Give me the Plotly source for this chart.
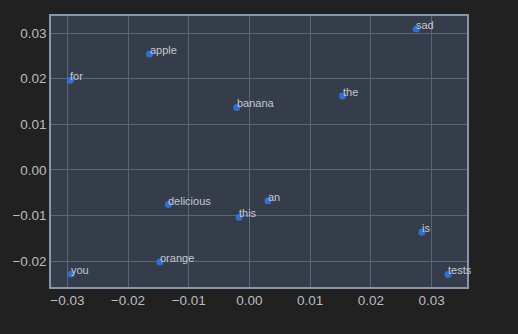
import plotly.graph_objects as go

words = ["for", "apple", "banana", "sad", "the", "delicious", "this", "orange", "you", "an", "is", "tests"]
xs = [-0.0295, -0.01646, -0.00208, 0.02748, 0.01534, -0.01334, -0.0017, -0.01475, -0.02934, 0.00305, 0.02841, 0.03272]
ys = [0.01969, 0.02545, 0.01372, 0.03092, 0.01619, -0.00759, -0.01035, -0.0202, -0.02283, -0.00678, -0.01364, -0.02291]

fig = go.Figure()
fig.add_trace(go.Scatter(x=xs, y=ys, mode="markers",
                         marker=dict(color="#2f6fd8", size=7, line=dict(width=0)),
                         hoverinfo="skip"))
for w, x, y in zip(words, xs, ys):
    fig.add_annotation(x=x, y=y, text=w, showarrow=False, xanchor="left", yanchor="bottom",
                       xshift=-2, yshift=-4, font=dict(size=11, color="#c4c8ce", family="Liberation Sans, Arial"))

axis_common = dict(showgrid=True, gridcolor="#5b6577", gridwidth=1, zeroline=False,
                   showline=True, linecolor="#8796ad", linewidth=1.5, mirror=True,
                   ticks="", tickfont=dict(size=13.5, color="#b9bcc0", family="Liberation Sans, Arial"))
fig.update_xaxes(range=[-0.03269, 0.03584], tickvals=[-0.03, -0.02, -0.01, 0, 0.01, 0.02, 0.03],
                 ticktext=["−0.03", "−0.02", "−0.01", "0.00", "0.01", "0.02", "0.03"], **axis_common)
fig.update_yaxes(range=[-0.02567, 0.03376], tickvals=[-0.02, -0.01, 0, 0.01, 0.02, 0.03],
                 ticktext=["−0.02", "−0.01", "0.00", "0.01", "0.02", "0.03"], **axis_common)
fig.update_layout(width=518, height=334, margin=dict(l=49, r=51, t=16, b=47),
                  paper_bgcolor="#212121", plot_bgcolor="#363d4a", showlegend=False)
fig.write_html("out.html")
